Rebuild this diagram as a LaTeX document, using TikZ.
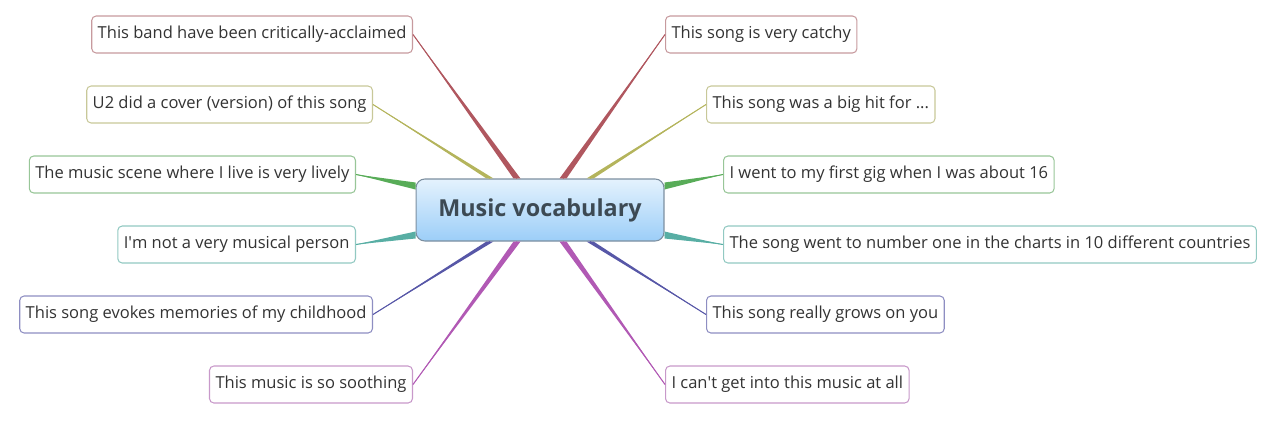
\documentclass[tikz,border=0pt]{standalone}
\usepackage{fontspec}
\setmainfont{Open Sans}
\usetikzlibrary{calc}

\definecolor{redline}{HTML}{B0575F}
\definecolor{redbox}{HTML}{C79A9E}
\definecolor{oliveline}{HTML}{B4B45C}
\definecolor{olivebox}{HTML}{C8C899}
\definecolor{greenline}{HTML}{58AC58}
\definecolor{greenbox}{HTML}{98C698}
\definecolor{tealline}{HTML}{58AEA4}
\definecolor{tealbox}{HTML}{92C9C2}
\definecolor{blueline}{HTML}{5757A7}
\definecolor{bluebox}{HTML}{8E8EC2}
\definecolor{magline}{HTML}{B159B4}
\definecolor{magbox}{HTML}{C899CA}
\definecolor{textgray}{HTML}{333333}
\definecolor{topictext}{HTML}{3D4A54}
\definecolor{topicborder}{HTML}{7C8FA0}
\definecolor{topictop}{HTML}{E4F2FD}
\definecolor{topicbottom}{HTML}{9CCEF8}

\tikzset{
	idea/.style={draw=#1, rounded corners=2.5pt, fill=white, text=textgray, line width=0.6pt,
		font=\fontsize{9.4}{11}\selectfont, inner xsep=0.12cm, minimum height=0.74cm},
	topic/.style={draw=topicborder, rounded corners=5pt, top color=topictop, bottom color=topicbottom,
		text=topictext, font=\fontsize{13.3}{15}\bfseries, minimum width=4.96cm, minimum height=1.24cm, line width=0.6pt}
}

% tapered branch: colour, start, half width, end
\newcommand{\branch}[4]{%
	\fill[#1] ($(#2)+(#3)$) -- ($(#2)-(#3)$) -- (#4) -- cycle;
	\draw[#1, line width=0.6pt] (#2) -- (#4);}

\begin{document}
\begin{tikzpicture}[x=0.02cm, y=-0.02cm]
		\useasboundingbox (0, 0) rectangle (1277, 420);
		% Central topic:
		\node[topic] (music) at (540, 210){Music vocabulary};
		% Left ideas:
		\node[idea=redbox, anchor=east] (band) at (413, 34.5){This band have been critically-acclaimed};
		\node[idea=olivebox, anchor=east] (cover) at (373, 104.5){U2 did a cover (version) of this song};
		\node[idea=greenbox, anchor=east] (scene) at (356, 174.5){The music scene where I live is very lively};
		\node[idea=tealbox, anchor=east] (musical) at (356, 244.5){I\textquotesingle m not a very musical person};
		\node[idea=bluebox, anchor=east] (memories) at (373, 314.5){This song evokes memories of my childhood};
		\node[idea=magbox, anchor=east] (soothing) at (413, 384.5){This music is so soothing};
		% Right ideas:
		\node[idea=redbox, anchor=west] (catchy) at (665, 34.5){This song is very catchy};
		\node[idea=olivebox, anchor=west] (hit) at (706, 104.5){This song was a big hit for ...};
		\node[idea=greenbox, anchor=west] (gig) at (723, 174.5){I went to my first gig when I was about 16};
		\node[idea=tealbox, anchor=west] (charts) at (723, 244.5){The song went to number one in the charts in 10 different countries};
		\node[idea=bluebox, anchor=west] (grows) at (706, 314.5){This song really grows on you};
		\node[idea=magbox, anchor=west] (into) at (665, 384.5){I can\textquotesingle t get into this music at all};
		% Start points on the central topic:
		\coordinate (t1) at ($(music.north)+(-23, 0)$);
		\coordinate (t2) at ($(music.north)+(23, 0)$);
		\coordinate (t3) at ($(music.north)+(-50, 0)$);
		\coordinate (t4) at ($(music.north)+(50, 0)$);
		\coordinate (w1) at ($(music.west)+(0, -24)$);
		\coordinate (w2) at ($(music.west)+(0, 25)$);
		\coordinate (e1) at ($(music.east)+(0, -24)$);
		\coordinate (e2) at ($(music.east)+(0, 25)$);
		\coordinate (b1) at ($(music.south)+(-50, 0)$);
		\coordinate (b2) at ($(music.south)+(50, 0)$);
		\coordinate (b3) at ($(music.south)+(-23, 0)$);
		\coordinate (b4) at ($(music.south)+(23, 0)$);
		% Branches:
		\branch{redline}{t1}{3.5, 0}{band.east}
		\branch{redline}{t2}{3.5, 0}{catchy.west}
		\branch{oliveline}{t3}{3.5, 0}{cover.east}
		\branch{oliveline}{t4}{3.5, 0}{hit.west}
		\branch{greenline}{w1}{0, 3.5}{scene.east}
		\branch{greenline}{e1}{0, 3.5}{gig.west}
		\branch{tealline}{w2}{0, 3.5}{musical.east}
		\branch{tealline}{e2}{0, 3.5}{charts.west}
		\branch{blueline}{b1}{3.5, 0}{memories.east}
		\branch{blueline}{b2}{3.5, 0}{grows.west}
		\branch{magline}{b3}{3.5, 0}{soothing.east}
		\branch{magline}{b4}{3.5, 0}{into.west}
	\end{tikzpicture}
\end{document}
